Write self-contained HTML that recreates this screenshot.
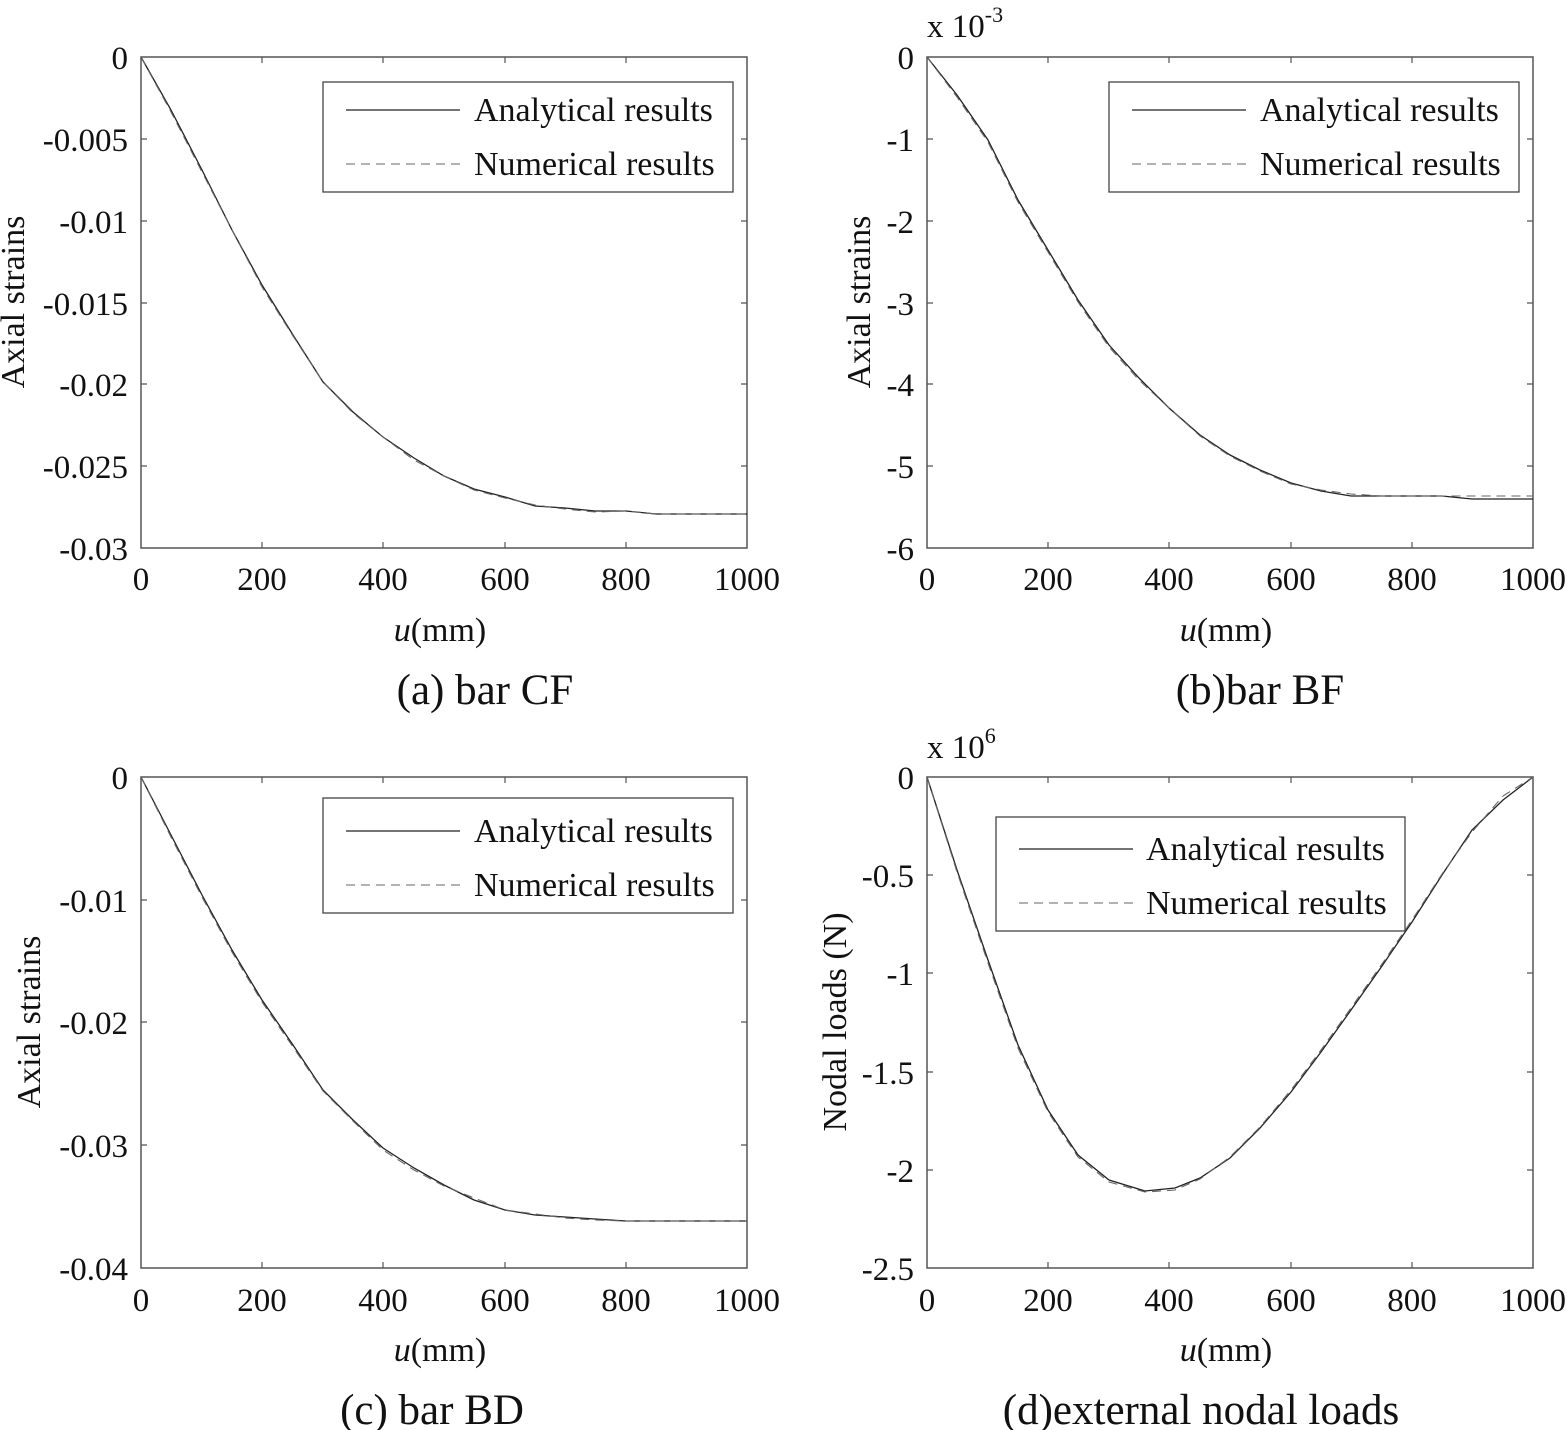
<!DOCTYPE html>
<html><head><style>body{margin:0;background:#fff}svg{display:block}text{font-family:"Liberation Serif",serif;fill:#111}</style></head><body>
<svg width="1567" height="1430" viewBox="0 0 1567 1430" xmlns="http://www.w3.org/2000/svg">
<g stroke="#555" stroke-width="1.5" fill="none">
<rect x="141" y="57" width="606" height="491"/>
<rect x="927" y="57" width="606" height="491"/>
<rect x="141" y="777" width="606" height="491"/>
<rect x="927" y="777" width="606" height="491"/>
</g>
<g stroke="#555" stroke-width="1.2">
<path d="M262 548v-6M383 548v-6M505 548v-6M626 548v-6M262 57v6M383 57v6M505 57v6M626 57v6"/>
<path d="M1048 548v-6M1169 548v-6M1291 548v-6M1412 548v-6M1048 57v6M1169 57v6M1291 57v6M1412 57v6"/>
<path d="M262 1268v-6M383 1268v-6M505 1268v-6M626 1268v-6M262 777v6M383 777v6M505 777v6M626 777v6"/>
<path d="M1048 1268v-6M1169 1268v-6M1291 1268v-6M1412 1268v-6M1048 777v6M1169 777v6M1291 777v6M1412 777v6"/>
<path d="M141 139h6M141 221h6M141 303h6M141 384h6M141 466h6M747 139h-6M747 221h-6M747 303h-6M747 384h-6M747 466h-6"/>
<path d="M927 139h6M927 221h6M927 303h6M927 384h6M927 466h6M1533 139h-6M1533 221h-6M1533 303h-6M1533 384h-6M1533 466h-6"/>
<path d="M141 900h6M141 1022h6M141 1145h6M747 900h-6M747 1022h-6M747 1145h-6"/>
<path d="M927 875h6M927 973h6M927 1072h6M927 1170h6M1533 875h-6M1533 973h-6M1533 1072h-6M1533 1170h-6"/>
</g>
<g fill="none" stroke="#222" stroke-width="1.3">
<path d="M141 57L171 110L202 170L232 230L262 285L293 335L323 382L353 412L383 437L414 458L444 476L474 489L505 497L535 506L565 508L595 511L626 511L656 514L747 514"/>
<path d="M927 57L957 95L988 140L1018 200L1048 250L1078 300L1109 345L1139 378L1169 408L1200 435L1230 455L1260 470L1291 483L1321 491L1351 496L1382 496L1412 496L1442 496L1472 499L1533 499"/>
<path d="M141 777L171 835L202 895L232 950L262 1000L293 1045L323 1090L353 1120L383 1148L414 1168L444 1185L474 1200L505 1210L535 1215L565 1217L595 1219L626 1221L747 1221"/>
<path d="M927 777L957 870L988 960L1018 1045L1048 1110L1078 1155L1109 1180L1145 1191L1175 1188L1200 1178L1230 1158L1260 1128L1291 1092L1321 1052L1351 1010L1382 966L1412 922L1442 875L1472 830L1503 800L1533 777"/>
</g>
<g fill="none" stroke="#666" stroke-width="1.1" stroke-dasharray="9,6">
<path d="M141 57L171 112L202 172L232 230L262 287L293 336L323 382L353 413L383 437L414 460L444 476L474 490L505 498L535 505L565 509L595 512L626 511L656 514L747 514"/>
<path d="M927 57L957 97L988 142L1018 202L1048 252L1078 302L1109 347L1139 380L1169 408L1200 436L1230 456L1260 471L1291 484L1321 490L1351 494L1382 496L1412 496L1533 496"/>
<path d="M141 777L171 837L202 897L232 952L262 1002L293 1047L323 1091L353 1121L383 1150L414 1170L444 1186L474 1198L505 1210L535 1214L565 1218L595 1220L626 1221L747 1221"/>
<path d="M927 777L957 872L988 963L1018 1048L1048 1112L1078 1157L1109 1182L1145 1192L1175 1190L1200 1179L1230 1157L1260 1127L1291 1090L1321 1050L1351 1008L1382 964L1412 920L1442 874L1472 832L1503 796L1533 777"/>
</g>
<g fill="#fff" stroke="#444" stroke-width="1.3">
<rect x="323" y="82" width="410" height="110"/>
<rect x="1109" y="82" width="410" height="110"/>
<rect x="323" y="798" width="410" height="115"/>
<rect x="996" y="817" width="409" height="114"/>
</g>
<g stroke="#222" stroke-width="1.2">
<path d="M346 110h114M1132 110h114M346 831h114M1019 849h114"/>
</g>
<g stroke="#666" stroke-width="1.1" stroke-dasharray="9,6">
<path d="M346 164h114M1132 164h114M346 885h114M1019 903h114"/>
</g>
<g font-size="34">
<text x="474" y="121">Analytical results</text><text x="474" y="175">Numerical results</text>
<text x="1260" y="121">Analytical results</text><text x="1260" y="175">Numerical results</text>
<text x="474" y="842">Analytical results</text><text x="474" y="896">Numerical results</text>
<text x="1146" y="860">Analytical results</text><text x="1146" y="914">Numerical results</text>
</g>
<g font-size="33" text-anchor="middle">
<text x="141" y="590">0</text><text x="262" y="590">200</text><text x="383" y="590">400</text><text x="505" y="590">600</text><text x="626" y="590">800</text><text x="747" y="590">1000</text>
<text x="927" y="590">0</text><text x="1048" y="590">200</text><text x="1169" y="590">400</text><text x="1291" y="590">600</text><text x="1412" y="590">800</text><text x="1533" y="590">1000</text>
<text x="141" y="1311">0</text><text x="262" y="1311">200</text><text x="383" y="1311">400</text><text x="505" y="1311">600</text><text x="626" y="1311">800</text><text x="747" y="1311">1000</text>
<text x="927" y="1311">0</text><text x="1048" y="1311">200</text><text x="1169" y="1311">400</text><text x="1291" y="1311">600</text><text x="1412" y="1311">800</text><text x="1533" y="1311">1000</text>
</g>
<g font-size="33" text-anchor="end">
<text x="128" y="69">0</text><text x="128" y="151">-0.005</text><text x="128" y="233">-0.01</text><text x="128" y="315">-0.015</text><text x="128" y="396">-0.02</text><text x="128" y="478">-0.025</text><text x="128" y="560">-0.03</text>
<text x="914" y="69">0</text><text x="914" y="151">-1</text><text x="914" y="233">-2</text><text x="914" y="315">-3</text><text x="914" y="396">-4</text><text x="914" y="478">-5</text><text x="914" y="560">-6</text>
<text x="128" y="789">0</text><text x="128" y="912">-0.01</text><text x="128" y="1034">-0.02</text><text x="128" y="1157">-0.03</text><text x="128" y="1280">-0.04</text>
<text x="914" y="789">0</text><text x="914" y="887">-0.5</text><text x="914" y="985">-1</text><text x="914" y="1084">-1.5</text><text x="914" y="1182">-2</text><text x="914" y="1280">-2.5</text>
</g>
<text x="927" y="37" font-size="33">x 10<tspan font-size="22" dy="-15">-3</tspan></text>
<text x="927" y="758" font-size="33">x 10<tspan font-size="22" dy="-15">6</tspan></text>
<g font-size="34" text-anchor="middle">
<text transform="translate(24,302) rotate(-90)">Axial strains</text>
<text transform="translate(870,302) rotate(-90)">Axial strains</text>
<text transform="translate(40,1022) rotate(-90)">Axial strains</text>
<text transform="translate(846,1022) rotate(-90)">Nodal loads (N)</text>
<text x="440" y="641"><tspan font-style="italic">u</tspan>(mm)</text>
<text x="1226" y="641"><tspan font-style="italic">u</tspan>(mm)</text>
<text x="440" y="1361"><tspan font-style="italic">u</tspan>(mm)</text>
<text x="1226" y="1361"><tspan font-style="italic">u</tspan>(mm)</text>
</g>
<g font-size="43" text-anchor="middle">
<text x="485" y="704">(a) bar CF</text>
<text x="1260" y="704">(b)bar BF</text>
<text x="432" y="1424">(c) bar BD</text>
<text x="1201" y="1424">(d)external nodal loads</text>
</g>
</svg>
</body></html>
